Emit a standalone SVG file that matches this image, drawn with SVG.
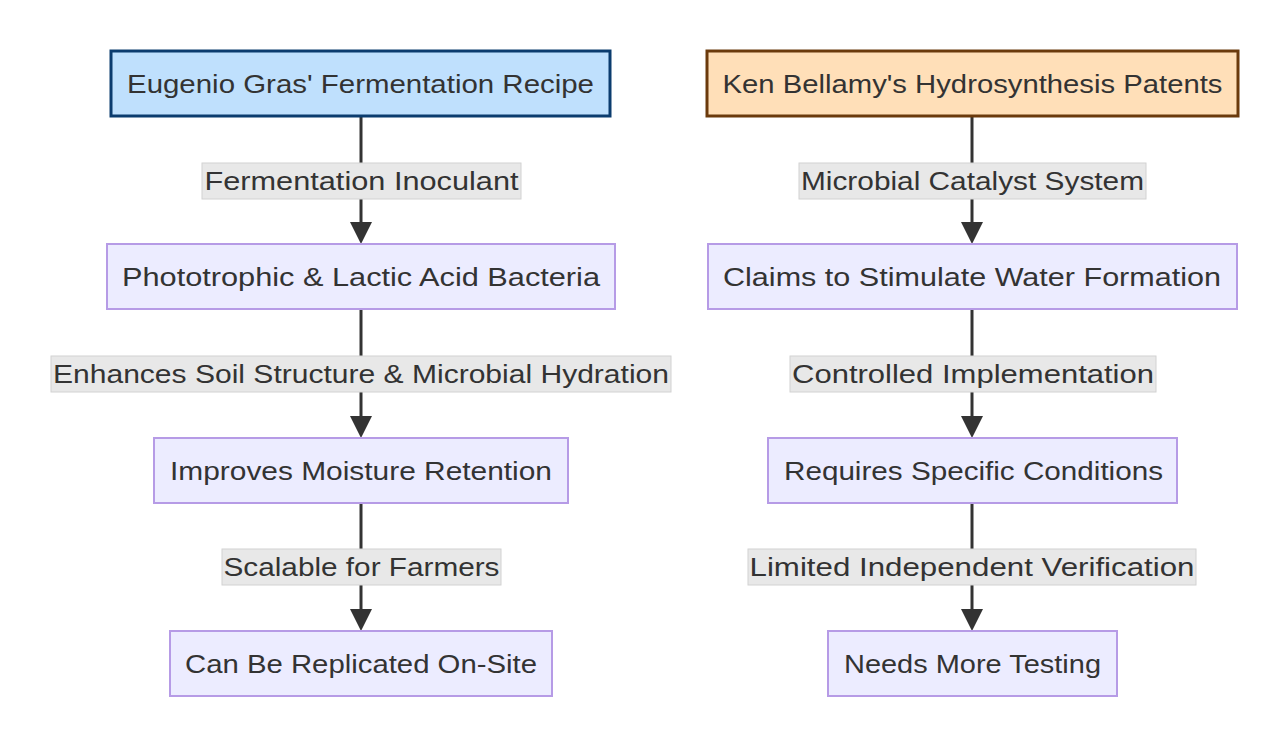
<svg xmlns="http://www.w3.org/2000/svg" width="1286" height="748" viewBox="0 0 1286 748">
<style>
  text { font-family: "Liberation Sans", "DejaVu Sans", sans-serif; font-size: 26px; fill: #333; text-anchor: middle; }
  .node { fill: #ececff; stroke: #b69be6; stroke-width: 2; }
  .lbl { fill: #e8e8e8; stroke: #d2d2d2; stroke-width: 1; }
  .edge { stroke: #333; stroke-width: 3; fill: none; }
</style>
<defs>
  <marker id="arr" markerWidth="22" markerHeight="22" refX="11" refY="22" orient="auto-start-reverse" markerUnits="userSpaceOnUse" viewBox="0 0 22 22">
    <path d="M0,0 L22,0 L11,22 Z" fill="#333"/>
  </marker>
</defs>
<rect width="1286" height="748" fill="#ffffff"/>
<g id="connectors">
  <line class="edge" x1="361" y1="116" x2="361" y2="222"/>
  <path d="M350,222 L372,222 L361,244 Z" fill="#333"/>
  <line class="edge" x1="361" y1="309" x2="361" y2="416"/>
  <path d="M350,416 L372,416 L361,438 Z" fill="#333"/>
  <line class="edge" x1="361" y1="503" x2="361" y2="609"/>
  <path d="M350,609 L372,609 L361,631 Z" fill="#333"/>
  <line class="edge" x1="972" y1="116" x2="972" y2="222"/>
  <path d="M961,222 L983,222 L972,244 Z" fill="#333"/>
  <line class="edge" x1="972" y1="309" x2="972" y2="416"/>
  <path d="M961,416 L983,416 L972,438 Z" fill="#333"/>
  <line class="edge" x1="972" y1="503" x2="972" y2="609"/>
  <path d="M961,609 L983,609 L972,631 Z" fill="#333"/>
  <g id="edge-labels">
    <rect class="lbl" x="202" y="163" width="319" height="36"/>
    <text x="361.5" y="190" textLength="314" lengthAdjust="spacingAndGlyphs">Fermentation Inoculant</text>
    <rect class="lbl" x="51" y="356" width="620" height="36"/>
    <text x="361" y="383" textLength="616" lengthAdjust="spacingAndGlyphs">Enhances Soil Structure &amp; Microbial Hydration</text>
    <rect class="lbl" x="222" y="549" width="279" height="36"/>
    <text x="361.5" y="576" textLength="276" lengthAdjust="spacingAndGlyphs">Scalable for Farmers</text>
    <rect class="lbl" x="799" y="163" width="347" height="36"/>
    <text x="972.5" y="190" textLength="343" lengthAdjust="spacingAndGlyphs">Microbial Catalyst System</text>
    <rect class="lbl" x="790" y="356" width="366" height="36"/>
    <text x="973" y="383" textLength="362" lengthAdjust="spacingAndGlyphs">Controlled Implementation</text>
    <rect class="lbl" x="748" y="549" width="448" height="36"/>
    <text x="972" y="576" textLength="445" lengthAdjust="spacingAndGlyphs">Limited Independent Verification</text>
  </g>
</g>
<g id="A">
  <rect x="111" y="51" width="499" height="65" fill="#bfe0fd" stroke="#0b3c6e" stroke-width="3"/>
  <text x="360.5" y="93" textLength="467" lengthAdjust="spacingAndGlyphs">Eugenio Gras' Fermentation Recipe</text>
</g>
<g id="B">
  <rect class="node" x="107" y="244" width="508" height="65"/>
  <text x="361" y="286" textLength="478" lengthAdjust="spacingAndGlyphs">Phototrophic &amp; Lactic Acid Bacteria</text>
</g>
<g id="C">
  <rect class="node" x="154" y="438" width="414" height="65"/>
  <text x="361" y="480" textLength="382" lengthAdjust="spacingAndGlyphs">Improves Moisture Retention</text>
</g>
<g id="D">
  <rect class="node" x="170" y="631" width="382" height="65"/>
  <text x="361" y="673" textLength="352" lengthAdjust="spacingAndGlyphs">Can Be Replicated On-Site</text>
</g>
<g id="E">
  <rect x="707" y="51" width="531" height="65" fill="#ffdfb8" stroke="#6b3a0c" stroke-width="3"/>
  <text x="972.5" y="93" textLength="500" lengthAdjust="spacingAndGlyphs">Ken Bellamy's Hydrosynthesis Patents</text>
</g>
<g id="F">
  <rect class="node" x="708" y="244" width="529" height="65"/>
  <text x="972" y="286" textLength="498" lengthAdjust="spacingAndGlyphs">Claims to Stimulate Water Formation</text>
</g>
<g id="G">
  <rect class="node" x="768" y="438" width="409" height="65"/>
  <text x="973.5" y="480" textLength="379" lengthAdjust="spacingAndGlyphs">Requires Specific Conditions</text>
</g>
<g id="H">
  <rect class="node" x="828" y="631" width="289" height="65"/>
  <text x="972.5" y="673" textLength="257" lengthAdjust="spacingAndGlyphs">Needs More Testing</text>
</g>
</svg>
